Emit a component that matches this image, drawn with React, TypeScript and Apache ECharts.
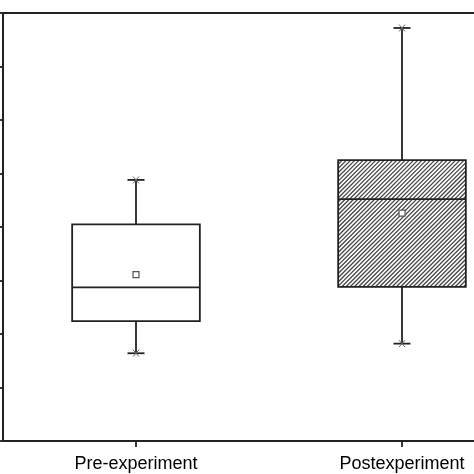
import React, { useEffect, useRef } from "react";
import * as echarts from "echarts";

const categories = ["Pre-experiment", "Postexperiment"];
const lowerWhisker = [1.64, 1.82];
const q1 = [2.24, 2.88];
const median = [2.87, 4.52];
const q3 = [4.05, 5.25];
const upperWhisker = [4.88, 7.72];
const mean = [3.11, 4.26];

const yMin = 0;
const yMax = 8;
const yInterval = 1;

const LINE = "#222";

export default function App() {
  const ref = useRef<HTMLDivElement>(null);
  useEffect(() => {
    if (!ref.current) return;
    const chart = echarts.init(ref.current, null, { renderer: "svg" });
    const data = categories.map((_, i) => [i, lowerWhisker[i], q1[i], median[i], q3[i], upperWhisker[i], mean[i]]);

    const renderItem = (params: any, api: any) => {
      const idx = api.value(0);
      const pLow = api.coord([idx, api.value(1)]);
      const pQ1 = api.coord([idx, api.value(2)]);
      const pMed = api.coord([idx, api.value(3)]);
      const pQ3 = api.coord([idx, api.value(4)]);
      const pUp = api.coord([idx, api.value(5)]);
      const pMean = api.coord([idx, api.value(6)]);
      const band = api.size([1, 0])[0];
      const w = band * 0.48;
      const cx = pMed[0];
      const x0 = cx - w / 2;
      const x1 = cx + w / 2;
      const y0 = pQ3[1];
      const y1 = pQ1[1];
      const children: any[] = [];
      const lineStyle = { stroke: LINE, lineWidth: 1.8 };

      if (params.dataIndex === 1) {
        const step = 4.2;
        for (let c = x0 + y0; c <= x1 + y1; c += step) {
          const xa = Math.max(x0, c - y1);
          const xb = Math.min(x1, c - y0);
          if (xa < xb) {
            children.push({
              type: "line",
              shape: { x1: xa, y1: c - xa, x2: xb, y2: c - xb },
              style: { stroke: "#444", lineWidth: 1.3 },
            });
          }
        }
      }
      children.push({
        type: "rect",
        shape: { x: x0, y: y0, width: w, height: y1 - y0 },
        style: { fill: "none", stroke: LINE, lineWidth: 1.8 },
      });
      children.push({ type: "line", shape: { x1: x0, y1: pMed[1], x2: x1, y2: pMed[1] }, style: lineStyle });
      children.push({ type: "line", shape: { x1: cx, y1: y0, x2: cx, y2: pUp[1] }, style: lineStyle });
      children.push({ type: "line", shape: { x1: cx, y1: y1, x2: cx, y2: pLow[1] }, style: lineStyle });
      const cap = (y: number) => {
        children.push({ type: "line", shape: { x1: cx - 8.5, y1: y, x2: cx + 8.5, y2: y }, style: lineStyle });
        children.push({ type: "line", shape: { x1: cx - 3, y1: y - 3.5, x2: cx + 3, y2: y + 3.5 }, style: { stroke: "#666", lineWidth: 1 } });
        children.push({ type: "line", shape: { x1: cx - 3, y1: y + 3.5, x2: cx + 3, y2: y - 3.5 }, style: { stroke: "#666", lineWidth: 1 } });
      };
      cap(pUp[1]);
      cap(pLow[1]);
      children.push({
        type: "rect",
        shape: { x: pMean[0] - 3, y: pMean[1] - 3, width: 6, height: 6 },
        style: { fill: "#fff", stroke: "#555", lineWidth: 1.2 },
      });
      return { type: "group", children };
    };

    chart.setOption({
      animation: false,
      grid: {
        left: 3,
        top: 13,
        right: 0,
        bottom: 33,
        show: true,
        borderColor: LINE,
        borderWidth: 1.8,
        backgroundColor: "transparent",
      },
      xAxis: {
        type: "category",
        data: categories,
        axisLine: { lineStyle: { color: LINE, width: 2 } },
        axisTick: { show: true, alignWithLabel: true, length: 6, lineStyle: { color: LINE, width: 1.8 } },
        axisLabel: { fontSize: 18, color: "#000", fontFamily: "Liberation Sans", margin: 13 },
        splitLine: { show: false },
      },
      yAxis: {
        type: "value",
        min: yMin,
        max: yMax,
        interval: yInterval,
        axisLine: { show: true, lineStyle: { color: LINE, width: 2 } },
        axisTick: { show: true, length: 6, lineStyle: { color: LINE, width: 1.8 } },
        axisLabel: { show: false },
        splitLine: { show: false },
      },
      series: [
        {
          type: "custom",
          renderItem,
          data,
          encode: { x: 0, y: [1, 2, 3, 4, 5, 6] },
          clip: false,
        },
      ],
    });
    return () => chart.dispose();
  }, []);
  return <div ref={ref} style={{ position: "fixed", left: 0, top: 0, width: 535, height: 474 }} />;
}
